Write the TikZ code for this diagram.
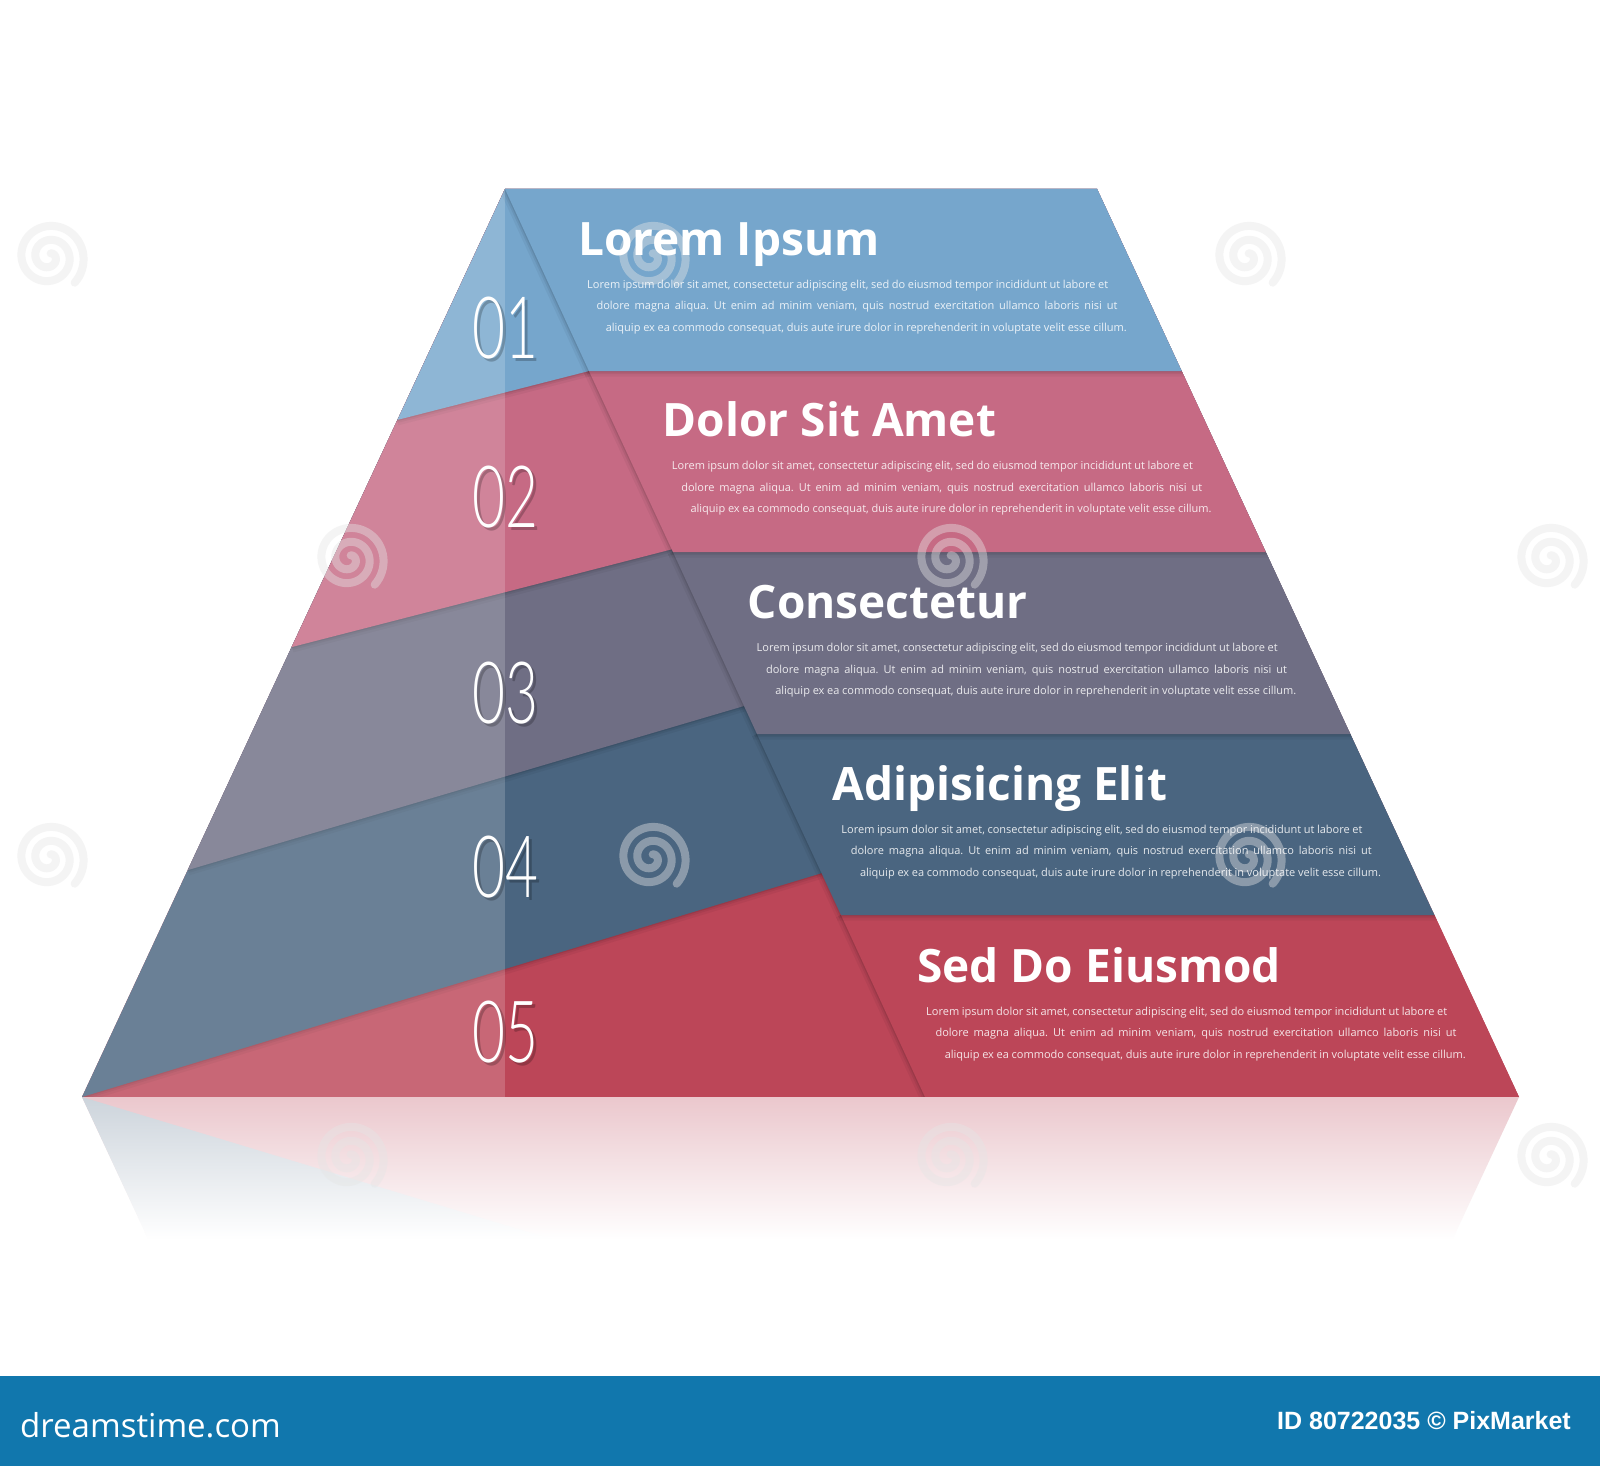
\documentclass[tikz,border=0pt]{standalone}
\usepackage{fontspec}
\usepackage{graphicx}
\setmainfont{Open Sans}
\newfontfamily\numfont{Lato Light}
\newfontfamily\idfont{Liberation Sans}
\frenchspacing
\definecolor{cA}{HTML}{76A6CC}
\definecolor{cB}{HTML}{C66A84}
\definecolor{cC}{HTML}{6F6E84}
\definecolor{cD}{HTML}{4A6580}
\definecolor{cE}{HTML}{BC4658}
\definecolor{barblue}{HTML}{1177AD}
\definecolor{wmark}{gray}{0.9}
\newcommand\softshadow[1]{\draw[shA] #1; \draw[shB] #1; \draw[shC] #1;}
\newcommand\bodyLa{Lorem ipsum dolor sit amet, consectetur adipiscing elit, sed do eiusmod tempor incididunt ut labore et}
\newcommand\bodyLb{dolore magna aliqua. Ut enim ad minim veniam, quis nostrud exercitation ullamco laboris nisi ut}
\newcommand\bodyLc{aliquip ex ea commodo consequat, duis aute irure dolor in reprehenderit in voluptate velit esse cillum.}
\newcommand\bodyline[1]{\makebox[521pt][s]{#1}}
\newcommand\numtext[1]{\scalebox{0.66}[1]{#1}}
\newcommand\wmspiral[2]{\draw[wm] plot[domain=-785:45, samples=140, smooth] ({#1+(4+(\x+785)/360*14)*cos(\x)}, {#2+(4+(\x+785)/360*14)*sin(\x)});}
\begin{document}
\begin{tikzpicture}[x=1pt,y=-1pt,
  ttl/.style={anchor=base west, inner sep=0pt, text=white, font=\fontsize{46}{46}\selectfont\bfseries},
  bodytxt/.style={anchor=base west, inner sep=0pt, text=white, text opacity=0.86, font=\fontsize{11}{13}\selectfont},
  numtxt/.style={inner sep=0pt, text=white, font=\numfont\fontsize{86}{86}\selectfont},
  numshd/.style={inner sep=0pt, text=black, text opacity=0.22, font=\numfont\fontsize{86}{86}\selectfont},
  shA/.style={draw=black, line width=11pt, opacity=0.045},
  shB/.style={draw=black, line width=6pt, opacity=0.06},
  shC/.style={draw=black, line width=2.5pt, opacity=0.08},
  wm/.style={draw=wmark, line width=8pt, line cap=round, opacity=0.42}]
\useasboundingbox (0,0) rectangle (1600,1466);
\fill[white] (0,0) rectangle (1600,1466);
% ---------------- pyramid ----------------
\begin{scope}
\clip (505,189) -- (1097,189) -- (1519,1097) -- (82,1097) -- cycle;
\fill[cE] (0,150) rectangle (1600,1100);
% left stripes
\softshadow{(82,1097) -- (822,873)}
\fill[cD] (82,1097) -- (822,873) -- (1600,873) -- (1600,0) -- (0,0) -- (0,1097) -- cycle;
\softshadow{(188,870) -- (744,706)}
\fill[cC] (188,870) -- (744,706) -- (1600,706) -- (1600,0) -- (0,0) -- (0,870) -- cycle;
\softshadow{(292,647) -- (673,549)}
\fill[cB] (292,647) -- (673,549) -- (1600,549) -- (1600,0) -- (0,0) -- (0,647) -- cycle;
\softshadow{(397,420) -- (589,371)}
\fill[cA] (397,420) -- (589,371) -- (1600,371) -- (1600,0) -- (0,0) -- (0,420) -- cycle;
% right panels
\softshadow{(841,915) -- (925,1097)}
\fill[cE] (841,915) -- (1600,915) -- (1600,1097) -- (925,1097) -- cycle;
\softshadow{(757,734) -- (841,915) -- (1600,915)}
\fill[cD] (757,734) -- (1600,734) -- (1600,915) -- (841,915) -- cycle;
\softshadow{(673,552) -- (757,734) -- (1600,734)}
\fill[cC] (673,552) -- (1600,552) -- (1600,734) -- (757,734) -- cycle;
\softshadow{(589,371) -- (673,552) -- (1600,552)}
\fill[cB] (589,371) -- (1600,371) -- (1600,552) -- (673,552) -- cycle;
\softshadow{(505,189) -- (589,371) -- (1600,371)}
\fill[cA] (505,189) -- (1600,189) -- (1600,371) -- (589,371) -- cycle;
% lighter left half
\fill[white, opacity=0.18] (0,0) rectangle (505,1100);
\end{scope}
% ---------------- reflection ----------------
\begin{scope}
\clip (82,1097) -- (1519,1097) -- (1449,1247) -- (152,1247) -- cycle;
\shade[top color=cE!30!white, bottom color=white] (0,1097) rectangle (1600,1240);
\clip (82,1097) -- (822,1321) -- (0,1321) -- cycle;
\shade[top color=cD!28!white, bottom color=white] (0,1097) rectangle (1600,1240);
\end{scope}
% ---------------- watermark spirals ----------------
\foreach \cx/\cy in {49/257, 651/257, 1247/257, 349/559, 949/559, 1549/559,
                     49/858, 651/858, 1247/858, 349/1158, 949/1158, 1549/1158}{
  \wmspiral{\cx}{\cy}
}
% ---------------- numbers ----------------
\foreach \n/\yy in {01/328, 02/497, 03/693, 04/867, 05/1032}{
  \node[numshd] (s\n) at (508,\yy+3) {\numtext{\n}};
  \node[numtxt] (n\n) at (505,\yy) {\numtext{\n}};
}
% ---------------- titles ----------------
\node[ttl] (t1) at (578,255) {Lorem Ipsum};
\node[ttl] (t2) at (662.75,436.75) {Dolor Sit Amet};
\node[ttl] (t3) at (747.5,618.5) {Consectetur};
\node[ttl] (t4) at (832.25,800.25) {Adipisicing Elit};
\node[ttl] (t5) at (917,982) {Sed Do Eiusmod};
% ---------------- body text ----------------
\node[bodytxt] (b1a) at (587,288) {\bodyline{\bodyLa}};
\node[bodytxt] (b1b) at (596.3,309.5) {\bodyline{\bodyLb}};
\node[bodytxt] (b1c) at (605.6,331) {\bodyline{\bodyLc}};
\node[bodytxt] (b2a) at (671.75,469.75) {\bodyline{\bodyLa}};
\node[bodytxt] (b2b) at (681.05,491.25) {\bodyline{\bodyLb}};
\node[bodytxt] (b2c) at (690.35,512.75) {\bodyline{\bodyLc}};
\node[bodytxt] (b3a) at (756.5,651.5) {\bodyline{\bodyLa}};
\node[bodytxt] (b3b) at (765.8,673) {\bodyline{\bodyLb}};
\node[bodytxt] (b3c) at (775.1,694.5) {\bodyline{\bodyLc}};
\node[bodytxt] (b4a) at (841.25,833.25) {\bodyline{\bodyLa}};
\node[bodytxt] (b4b) at (850.55,854.75) {\bodyline{\bodyLb}};
\node[bodytxt] (b4c) at (859.85,876.25) {\bodyline{\bodyLc}};
\node[bodytxt] (b5a) at (926,1015) {\bodyline{\bodyLa}};
\node[bodytxt] (b5b) at (935.3,1036.5) {\bodyline{\bodyLb}};
\node[bodytxt] (b5c) at (944.6,1058) {\bodyline{\bodyLc}};
% ---------------- bottom bar ----------------
\fill[barblue] (0,1376) rectangle (1600,1466);
\node[anchor=base west, inner sep=0pt, text=white, font=\fontsize{33}{33}\selectfont] (dt) at (20,1437) {dreamstime.com};
\node[anchor=base east, inner sep=0pt, text=white, font=\idfont\fontsize{25}{25}\selectfont\bfseries] (id) at (1571,1429) {ID 80722035 © PixMarket};
\end{tikzpicture}
\end{document}
